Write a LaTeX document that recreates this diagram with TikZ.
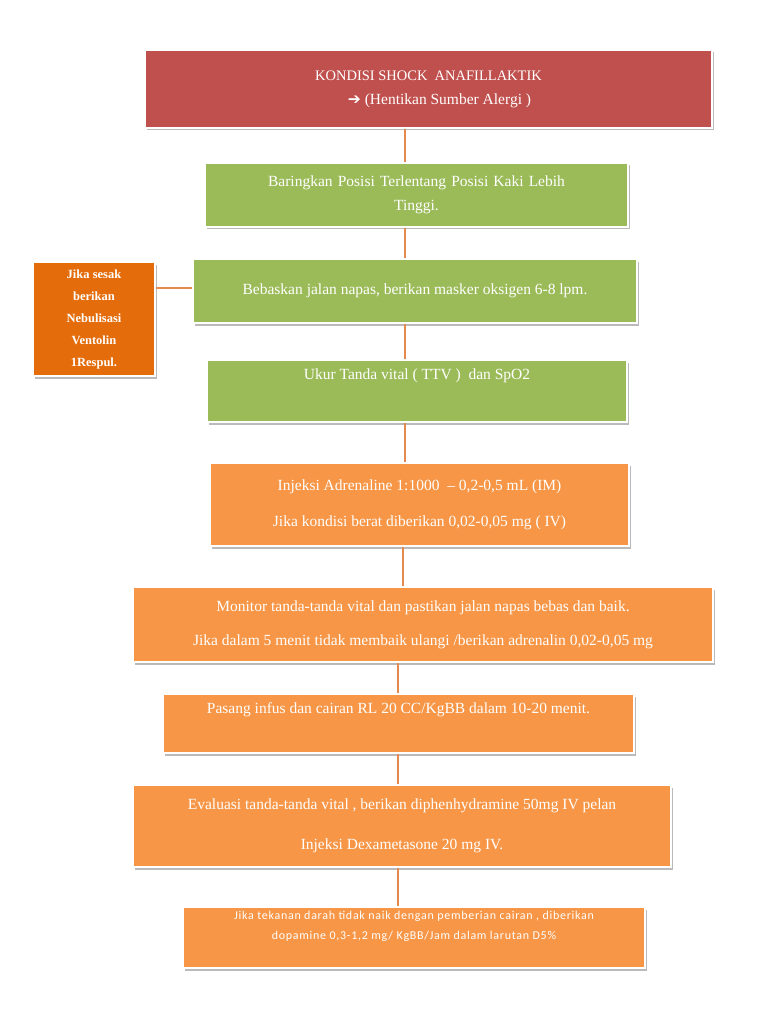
\documentclass[tikz,border=0pt]{standalone}
\usepackage{fontspec}
\setmainfont{Liberation Serif}
\newfontfamily\dejavu{DejaVu Sans}
\newfontfamily\carl[LetterSpace=6]{Carlito}
\usetikzlibrary{shadows}
\definecolor{cred}{HTML}{C0504D}
\definecolor{cgreen}{HTML}{9BBB59}
\definecolor{corange}{HTML}{F79646}
\definecolor{cdark}{HTML}{E46C0A}
\definecolor{cline}{HTML}{E58A4E}
\tikzset{
 box/.style={draw=white,line width=2pt,text=white,align=center,inner sep=2pt,
   drop shadow={shadow xshift=2pt,shadow yshift=-2.5pt,fill=black!45,opacity=0.6},
   font=\fontsize{15.5}{24}\selectfont},
 conn/.style={draw=cline,line width=2pt}
}
\begin{document}
\begin{tikzpicture}[x=1pt,y=-1pt]
\useasboundingbox (0,0) rectangle (768,1024);
\node[box,fill=cred,minimum width=567,minimum height=78] (n1) at (428.5,89)
 {\fontsize{14.5}{33}\selectfont KONDISI SHOCK\ \ ANAFILLAKTIK\\\hspace*{22pt}{\dejavu ➔} (Hentikan Sumber Alergi )};
\node[box,fill=cgreen,minimum width=423,minimum height=64,text width=400] (n2) at (416.5,195)
 {Baringkan Posisi Terlentang Posisi Kaki Lebih\\Tinggi.};
\node[box,fill=cgreen,minimum width=444,minimum height=64] (n3) at (415,291)
 {Bebaskan jalan napas, berikan masker oksigen 6-8 lpm.};
\node[box,fill=cdark,minimum width=122,minimum height=114,font=\bfseries\fontsize{12.5}{22}\selectfont,yshift=-2] (nl) at (94,317)
 {Jika sesak\\berikan\\Nebulisasi\\Ventolin\\1Respul.};
\node[box,fill=cgreen,minimum width=420,minimum height=62] (n4) at (417,391)
 {Ukur Tanda vital ( TTV )\ \ dan SpO2\\[10pt]};
\node[box,fill=corange,minimum width=419,minimum height=83,font=\fontsize{15.5}{36}\selectfont] (n5) at (419.5,504.5)
 {Injeksi Adrenaline 1:1000\ \ -- 0,2-0,5 mL (IM)\\Jika kondisi berat diberikan 0,02-0,05 mg ( IV)};
\node[box,fill=corange,minimum width=580,minimum height=75,font=\fontsize{15.5}{34}\selectfont] (n6) at (423,624.5)
 {Monitor tanda-tanda vital\ dan pastikan jalan napas bebas dan baik.\\Jika dalam 5 menit tidak membaik ulangi /berikan adrenalin 0,02-0,05 mg};
\node[box,fill=corange,minimum width=471,minimum height=59] (n7) at (398.5,723.5)
 {Pasang infus dan cairan RL 20 CC/KgBB dalam 10-20 menit.\\[6pt]};
\node[box,fill=corange,minimum width=538,minimum height=82,font=\fontsize{15.5}{40}\selectfont] (n8) at (402,826)
 {Evaluasi tanda-tanda vital , berikan diphenhydramine 50mg IV pelan\\Injeksi Dexametasone 20 mg IV.};
\node[box,fill=corange,minimum width=462,minimum height=61,font=\carl\fontsize{12}{20}\selectfont] (n9) at (414,937.5)
 {Jika tekanan darah tidak naik dengan pemberian cairan\ , diberikan\\dopamine 0,3-1,2 mg/ KgBB/Jam dalam larutan D5\%\\[4pt]};
\draw[conn] (n1.south -| 405,0) -- (n2.north -| 405,0);
\draw[conn] (n2.south -| 405,0) -- (n3.north -| 405,0);
\draw[conn] (n3.south -| 405,0) -- (n4.north -| 405,0);
\draw[conn] (n4.south -| 405,0) -- (n5.north -| 405,0);
\draw[conn] (n5.south -| 403,0) -- (n6.north -| 403,0);
\draw[conn] (n6.south -| 398,0) -- (n7.north -| 398,0);
\draw[conn] (n7.south -| 398,0) -- (n8.north -| 398,0);
\draw[conn] (n8.south -| 398,0) -- (n9.north -| 398,0);
\draw[conn] (nl.east |- 0,288) -- (n3.west |- 0,288);
\end{tikzpicture}
\end{document}
